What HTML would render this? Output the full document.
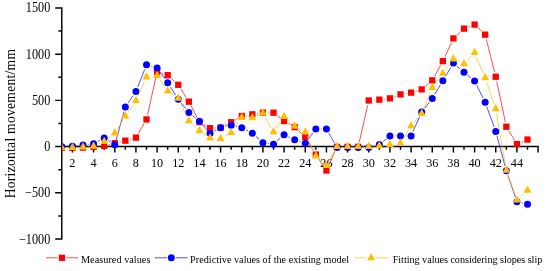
<!DOCTYPE html>
<html><head><meta charset="utf-8"><title>Horizontal movement chart</title>
<style>html,body{margin:0;padding:0;background:#fff;overflow:hidden}</style></head>
<body>
<svg width="550" height="271" viewBox="0 0 550 271" style="display:block">
<rect width="550" height="271" fill="#fff"/>
<path d="M61.78 7.23V239.77M61.055 146.45H538.81M55.18 239.05H61.78M58.38 215.94H61.78M55.18 192.83H61.78M58.38 169.72H61.78M55.18 146.45H61.78M58.38 123.50H61.78M55.18 100.39H61.78M58.38 77.28H61.78M55.18 54.17H61.78M58.38 31.06H61.78M55.18 7.95H61.78M72.43 146.45V152.55M83.02 146.45V149.65M93.60 146.45V152.55M104.18 146.45V149.65M114.77 146.45V152.55M125.35 146.45V149.65M135.93 146.45V152.55M146.51 146.45V149.65M157.10 146.45V152.55M167.68 146.45V149.65M178.26 146.45V152.55M188.85 146.45V149.65M199.43 146.45V152.55M210.01 146.45V149.65M220.59 146.45V152.55M231.18 146.45V149.65M241.76 146.45V152.55M252.34 146.45V149.65M262.93 146.45V152.55M273.51 146.45V149.65M284.09 146.45V152.55M294.68 146.45V149.65M305.26 146.45V152.55M315.84 146.45V149.65M326.43 146.45V152.55M337.01 146.45V149.65M347.59 146.45V152.55M358.17 146.45V149.65M368.76 146.45V152.55M379.34 146.45V149.65M389.92 146.45V152.55M400.51 146.45V149.65M411.09 146.45V152.55M421.67 146.45V149.65M432.26 146.45V152.55M442.84 146.45V149.65M453.42 146.45V152.55M464.00 146.45V149.65M474.59 146.45V152.55M485.17 146.45V149.65M495.75 146.45V152.55M506.34 146.45V149.65M516.92 146.45V152.55M527.50 146.45V149.65M538.09 146.45V152.55" stroke="#000" stroke-width="1.45" fill="none"/>
<g font-family="'Liberation Serif',serif" font-size="13.6" fill="#000">
<text transform="translate(50.3 243.55) scale(0.9 1)" text-anchor="end">−1000</text>
<text transform="translate(50.3 197.33) scale(0.9 1)" text-anchor="end">−500</text>
<text transform="translate(50.3 151.11) scale(0.9 1)" text-anchor="end">0</text>
<text transform="translate(50.3 104.89) scale(0.9 1)" text-anchor="end">500</text>
<text transform="translate(50.3 58.67) scale(0.9 1)" text-anchor="end">1000</text>
<text transform="translate(50.3 12.45) scale(0.9 1)" text-anchor="end">1500</text>
<text transform="translate(72.43 167.2) scale(0.94 1)" font-size="13" text-anchor="middle">2</text>
<text transform="translate(93.60 167.2) scale(0.94 1)" font-size="13" text-anchor="middle">4</text>
<text transform="translate(114.77 167.2) scale(0.94 1)" font-size="13" text-anchor="middle">6</text>
<text transform="translate(135.93 167.2) scale(0.94 1)" font-size="13" text-anchor="middle">8</text>
<text transform="translate(157.10 167.2) scale(0.94 1)" font-size="13" text-anchor="middle">10</text>
<text transform="translate(178.26 167.2) scale(0.94 1)" font-size="13" text-anchor="middle">12</text>
<text transform="translate(199.43 167.2) scale(0.94 1)" font-size="13" text-anchor="middle">14</text>
<text transform="translate(220.59 167.2) scale(0.94 1)" font-size="13" text-anchor="middle">16</text>
<text transform="translate(241.76 167.2) scale(0.94 1)" font-size="13" text-anchor="middle">18</text>
<text transform="translate(262.93 167.2) scale(0.94 1)" font-size="13" text-anchor="middle">20</text>
<text transform="translate(284.09 167.2) scale(0.94 1)" font-size="13" text-anchor="middle">22</text>
<text transform="translate(305.26 167.2) scale(0.94 1)" font-size="13" text-anchor="middle">24</text>
<text transform="translate(326.43 167.2) scale(0.94 1)" font-size="13" text-anchor="middle">26</text>
<text transform="translate(347.59 167.2) scale(0.94 1)" font-size="13" text-anchor="middle">28</text>
<text transform="translate(368.76 167.2) scale(0.94 1)" font-size="13" text-anchor="middle">30</text>
<text transform="translate(389.92 167.2) scale(0.94 1)" font-size="13" text-anchor="middle">32</text>
<text transform="translate(411.09 167.2) scale(0.94 1)" font-size="13" text-anchor="middle">34</text>
<text transform="translate(432.26 167.2) scale(0.94 1)" font-size="13" text-anchor="middle">36</text>
<text transform="translate(453.42 167.2) scale(0.94 1)" font-size="13" text-anchor="middle">38</text>
<text transform="translate(474.59 167.2) scale(0.94 1)" font-size="13" text-anchor="middle">40</text>
<text transform="translate(495.75 167.2) scale(0.94 1)" font-size="13" text-anchor="middle">42</text>
<text transform="translate(516.92 167.2) scale(0.94 1)" font-size="13" text-anchor="middle">44</text>
</g>
<text transform="translate(15.0 198.3) rotate(-90)" font-family="'Liberation Serif',serif" font-size="13.6" textLength="149.3" lengthAdjust="spacing" fill="#000">Horizontal movement/mm</text>
<clipPath id="pc"><rect x="62.4" y="0" width="488" height="271"/></clipPath><g clip-path="url(#pc)">
<path d="M66.75 147.77L67.53 147.77M77.33 147.68L78.12 147.67M87.90 147.24L88.71 147.19M98.48 146.38L99.30 146.30M108.93 144.63L110.01 144.35M119.53 142.03L120.58 141.78M130.06 139.30L131.22 138.97M138.40 133.38L144.05 123.66M147.58 114.64L156.03 76.83M161.79 73.44L162.98 73.80M171.31 78.48L174.63 81.50M180.86 88.95L186.25 97.54M191.10 106.04L197.17 117.75M203.68 124.54L205.77 125.75M214.91 127.94L215.70 127.89M224.95 125.40L226.82 124.43M235.41 119.72L237.53 118.48M246.60 115.24L247.50 115.10M257.18 113.58L258.09 113.44M267.83 112.68L268.61 112.68M277.35 115.73L280.26 118.03M288.34 123.53L290.43 124.73M298.29 130.49L301.65 133.56M307.77 141.08L313.33 150.39M318.56 158.68L323.71 166.41M328.43 166.01L335.01 151.32M341.91 146.84L342.69 146.84M352.49 146.84L353.27 146.84M359.26 142.07L367.67 105.27M373.64 100.11L374.46 100.04M384.20 99.06L385.06 98.96M394.51 96.64L395.92 96.12M405.34 93.59L406.25 93.44M415.78 91.21L416.99 90.84M425.40 86.22L428.53 83.54M434.62 76.07L440.47 65.44M444.91 56.71L451.35 42.88M457.02 35.11L460.41 31.98M468.58 26.89L470.01 26.34M478.14 27.96L481.62 31.27M486.36 39.40L494.56 72.01M496.77 81.55L505.32 121.92M508.89 130.90L514.37 139.89M521.42 142.15L523.00 141.48" stroke="#ff0000" stroke-width="0.7" fill="none"/>
<rect x="58.70" y="144.62" width="6.3" height="6.3" fill="#ff0000"/><rect x="69.28" y="144.62" width="6.3" height="6.3" fill="#ff0000"/><rect x="79.87" y="144.43" width="6.3" height="6.3" fill="#ff0000"/><rect x="90.45" y="143.69" width="6.3" height="6.3" fill="#ff0000"/><rect x="101.03" y="142.68" width="6.3" height="6.3" fill="#ff0000"/><rect x="111.61" y="140.00" width="6.3" height="6.3" fill="#ff0000"/><rect x="122.20" y="137.51" width="6.3" height="6.3" fill="#ff0000"/><rect x="132.78" y="134.46" width="6.3" height="6.3" fill="#ff0000"/><rect x="143.36" y="116.27" width="6.3" height="6.3" fill="#ff0000"/><rect x="153.95" y="68.90" width="6.3" height="6.3" fill="#ff0000"/><rect x="164.53" y="72.04" width="6.3" height="6.3" fill="#ff0000"/><rect x="175.11" y="81.64" width="6.3" height="6.3" fill="#ff0000"/><rect x="185.70" y="98.54" width="6.3" height="6.3" fill="#ff0000"/><rect x="196.28" y="118.95" width="6.3" height="6.3" fill="#ff0000"/><rect x="206.86" y="125.04" width="6.3" height="6.3" fill="#ff0000"/><rect x="217.44" y="124.49" width="6.3" height="6.3" fill="#ff0000"/><rect x="228.03" y="119.04" width="6.3" height="6.3" fill="#ff0000"/><rect x="238.61" y="112.85" width="6.3" height="6.3" fill="#ff0000"/><rect x="249.19" y="111.19" width="6.3" height="6.3" fill="#ff0000"/><rect x="259.78" y="109.53" width="6.3" height="6.3" fill="#ff0000"/><rect x="270.36" y="109.53" width="6.3" height="6.3" fill="#ff0000"/><rect x="280.94" y="117.93" width="6.3" height="6.3" fill="#ff0000"/><rect x="291.53" y="124.03" width="6.3" height="6.3" fill="#ff0000"/><rect x="302.11" y="133.72" width="6.3" height="6.3" fill="#ff0000"/><rect x="312.69" y="151.45" width="6.3" height="6.3" fill="#ff0000"/><rect x="323.28" y="167.33" width="6.3" height="6.3" fill="#ff0000"/><rect x="333.86" y="143.69" width="6.3" height="6.3" fill="#ff0000"/><rect x="344.44" y="143.69" width="6.3" height="6.3" fill="#ff0000"/><rect x="355.02" y="143.69" width="6.3" height="6.3" fill="#ff0000"/><rect x="365.61" y="97.34" width="6.3" height="6.3" fill="#ff0000"/><rect x="376.19" y="96.51" width="6.3" height="6.3" fill="#ff0000"/><rect x="386.77" y="95.22" width="6.3" height="6.3" fill="#ff0000"/><rect x="397.36" y="91.25" width="6.3" height="6.3" fill="#ff0000"/><rect x="407.94" y="89.49" width="6.3" height="6.3" fill="#ff0000"/><rect x="418.52" y="86.26" width="6.3" height="6.3" fill="#ff0000"/><rect x="429.11" y="77.21" width="6.3" height="6.3" fill="#ff0000"/><rect x="439.69" y="58.00" width="6.3" height="6.3" fill="#ff0000"/><rect x="450.27" y="35.29" width="6.3" height="6.3" fill="#ff0000"/><rect x="460.85" y="25.50" width="6.3" height="6.3" fill="#ff0000"/><rect x="471.44" y="21.44" width="6.3" height="6.3" fill="#ff0000"/><rect x="482.02" y="31.50" width="6.3" height="6.3" fill="#ff0000"/><rect x="492.60" y="73.61" width="6.3" height="6.3" fill="#ff0000"/><rect x="503.19" y="123.56" width="6.3" height="6.3" fill="#ff0000"/><rect x="513.77" y="140.92" width="6.3" height="6.3" fill="#ff0000"/><rect x="524.35" y="136.40" width="6.3" height="6.3" fill="#ff0000"/>
<path d="M66.75 146.49L67.54 146.46M77.29 145.65L78.16 145.54M87.89 144.40L88.73 144.31M97.88 141.41L99.90 140.28M108.28 140.57L110.66 142.13M116.08 140.09L124.03 111.67M128.12 102.91L133.16 95.57M137.74 86.98L144.71 69.40M151.22 66.20L152.39 66.54M159.94 71.89L164.84 78.77M170.33 86.88L175.61 95.08M181.31 103.03L185.79 108.66M192.60 115.64L195.67 118.21M202.70 125.01L206.74 129.53M214.35 130.91L216.25 129.91M225.36 126.51L226.41 126.27M235.95 126.27L236.99 126.51M246.10 129.91L248.00 130.91M255.99 136.45L259.28 139.41M267.78 143.37L268.66 143.49M277.15 140.89L280.45 137.93M288.53 136.74L290.24 137.55M299.33 141.18L300.61 141.61M308.18 139.22L312.92 132.86M320.74 128.93L321.53 128.93M328.86 133.18L334.57 143.15M341.91 147.40L342.69 147.40M352.49 147.40L353.27 147.40M363.07 147.40L363.86 147.40M373.49 146.12L374.61 145.82M383.14 141.45L386.12 139.04M394.82 135.95L395.61 135.95M405.41 135.95L406.19 135.95M413.08 131.47L419.68 116.60M424.67 108.25L429.25 102.33M434.77 94.25L440.33 84.94M445.36 76.53L450.90 67.29M457.13 66.30L460.30 69.03M467.79 75.34L470.80 77.81M476.76 85.30L482.99 97.86M486.84 106.85L494.08 126.82M497.02 136.16L505.07 166.12M507.93 175.49L515.33 197.06M521.69 202.82L522.73 203.06" stroke="#0000ff" stroke-width="0.7" fill="none"/>
<circle cx="61.85" cy="146.66" r="3.5" fill="#0000ff"/><circle cx="72.43" cy="146.29" r="3.5" fill="#0000ff"/><circle cx="83.02" cy="144.91" r="3.5" fill="#0000ff"/><circle cx="93.60" cy="143.80" r="3.5" fill="#0000ff"/><circle cx="104.18" cy="137.89" r="3.5" fill="#0000ff"/><circle cx="114.77" cy="144.81" r="3.5" fill="#0000ff"/><circle cx="125.35" cy="106.95" r="3.5" fill="#0000ff"/><circle cx="135.93" cy="91.53" r="3.5" fill="#0000ff"/><circle cx="146.51" cy="64.85" r="3.5" fill="#0000ff"/><circle cx="157.10" cy="67.89" r="3.5" fill="#0000ff"/><circle cx="167.68" cy="82.76" r="3.5" fill="#0000ff"/><circle cx="178.26" cy="99.20" r="3.5" fill="#0000ff"/><circle cx="188.85" cy="112.49" r="3.5" fill="#0000ff"/><circle cx="199.43" cy="121.36" r="3.5" fill="#0000ff"/><circle cx="210.01" cy="133.18" r="3.5" fill="#0000ff"/><circle cx="220.59" cy="127.64" r="3.5" fill="#0000ff"/><circle cx="231.18" cy="125.14" r="3.5" fill="#0000ff"/><circle cx="241.76" cy="127.64" r="3.5" fill="#0000ff"/><circle cx="252.34" cy="133.18" r="3.5" fill="#0000ff"/><circle cx="262.93" cy="142.69" r="3.5" fill="#0000ff"/><circle cx="273.51" cy="144.17" r="3.5" fill="#0000ff"/><circle cx="284.09" cy="134.66" r="3.5" fill="#0000ff"/><circle cx="294.68" cy="139.64" r="3.5" fill="#0000ff"/><circle cx="305.26" cy="143.15" r="3.5" fill="#0000ff"/><circle cx="315.84" cy="128.93" r="3.5" fill="#0000ff"/><circle cx="326.43" cy="128.93" r="3.5" fill="#0000ff"/><circle cx="337.01" cy="147.40" r="3.5" fill="#0000ff"/><circle cx="347.59" cy="147.40" r="3.5" fill="#0000ff"/><circle cx="358.17" cy="147.40" r="3.5" fill="#0000ff"/><circle cx="368.76" cy="147.40" r="3.5" fill="#0000ff"/><circle cx="379.34" cy="144.54" r="3.5" fill="#0000ff"/><circle cx="389.92" cy="135.95" r="3.5" fill="#0000ff"/><circle cx="400.51" cy="135.95" r="3.5" fill="#0000ff"/><circle cx="411.09" cy="135.95" r="3.5" fill="#0000ff"/><circle cx="421.67" cy="112.12" r="3.5" fill="#0000ff"/><circle cx="432.26" cy="98.46" r="3.5" fill="#0000ff"/><circle cx="442.84" cy="80.73" r="3.5" fill="#0000ff"/><circle cx="453.42" cy="63.09" r="3.5" fill="#0000ff"/><circle cx="464.00" cy="72.23" r="3.5" fill="#0000ff"/><circle cx="474.59" cy="80.91" r="3.5" fill="#0000ff"/><circle cx="485.17" cy="102.24" r="3.5" fill="#0000ff"/><circle cx="495.75" cy="131.42" r="3.5" fill="#0000ff"/><circle cx="506.34" cy="170.85" r="3.5" fill="#0000ff"/><circle cx="516.92" cy="201.69" r="3.5" fill="#0000ff"/><circle cx="527.50" cy="204.19" r="3.5" fill="#0000ff"/>
<path d="M66.75 147.68L67.53 147.67M77.33 147.33L78.12 147.29M87.90 146.69L88.71 146.63M98.10 144.36L99.68 143.69M108.00 138.70L110.94 136.34M117.35 129.11L122.77 120.35M128.12 112.15L133.16 104.81M137.93 96.29L144.51 81.60M151.37 76.45L152.24 76.33M159.85 79.71L164.93 87.20M171.75 93.99L174.20 95.63M180.35 102.80L186.76 116.37M192.38 124.20L195.89 127.57M203.46 133.74L205.98 135.48M214.91 138.47L215.70 138.51M224.83 136.25L226.95 135.00M234.02 128.54L238.92 121.66M246.66 117.79L247.45 117.81M256.82 115.95L258.45 115.23M265.35 117.49L271.08 127.54M276.33 127.78L281.27 120.75M287.71 120.05L291.06 123.13M298.99 128.77L300.95 129.83M307.24 136.64L313.86 151.60M319.49 159.35L322.78 162.31M328.82 161.31L334.62 150.94M341.91 146.66L342.69 146.66M352.49 146.66L353.27 146.66M363.07 146.66L363.86 146.66M373.65 146.32L374.45 146.26M384.22 145.50L385.04 145.42M394.75 144.16L395.68 143.99M403.09 138.99L408.51 130.23M414.27 122.34L418.49 117.42M423.52 109.16L430.41 92.19M435.17 83.71L439.92 77.28M445.75 69.40L450.51 62.97M457.85 61.12L459.57 61.93M467.36 60.44L471.23 56.32M476.48 57.27L483.27 73.44M486.76 82.60L494.17 104.26M496.59 113.72L505.50 165.47M507.97 174.92L515.28 195.51M520.53 196.81L523.89 193.74" stroke="#ffc000" stroke-width="0.7" fill="none"/>
<path d="M61.85 142.87L65.85 150.12L57.85 150.12Z" fill="#ffc000"/><path d="M72.43 142.68L76.43 149.93L68.43 149.93Z" fill="#ffc000"/><path d="M83.02 142.13L87.02 149.38L79.02 149.38Z" fill="#ffc000"/><path d="M93.60 141.39L97.60 148.64L89.60 148.64Z" fill="#ffc000"/><path d="M104.18 136.87L108.18 144.12L100.18 144.12Z" fill="#ffc000"/><path d="M114.77 128.37L118.77 135.62L110.77 135.62Z" fill="#ffc000"/><path d="M125.35 111.29L129.35 118.54L121.35 118.54Z" fill="#ffc000"/><path d="M135.93 95.87L139.93 103.12L131.93 103.12Z" fill="#ffc000"/><path d="M146.51 72.23L150.51 79.48L142.51 79.48Z" fill="#ffc000"/><path d="M157.10 70.75L161.10 78.00L153.10 78.00Z" fill="#ffc000"/><path d="M167.68 86.36L171.68 93.61L163.68 93.61Z" fill="#ffc000"/><path d="M178.26 93.47L182.26 100.72L174.26 100.72Z" fill="#ffc000"/><path d="M188.85 115.90L192.85 123.15L184.85 123.15Z" fill="#ffc000"/><path d="M199.43 126.06L203.43 133.31L195.43 133.31Z" fill="#ffc000"/><path d="M210.01 133.36L214.01 140.61L206.01 140.61Z" fill="#ffc000"/><path d="M220.59 133.82L224.59 141.07L216.59 141.07Z" fill="#ffc000"/><path d="M231.18 127.63L235.18 134.88L227.18 134.88Z" fill="#ffc000"/><path d="M241.76 112.77L245.76 120.02L237.76 120.02Z" fill="#ffc000"/><path d="M252.34 113.04L256.34 120.29L248.34 120.29Z" fill="#ffc000"/><path d="M262.93 108.33L266.93 115.58L258.93 115.58Z" fill="#ffc000"/><path d="M273.51 126.89L277.51 134.14L269.51 134.14Z" fill="#ffc000"/><path d="M284.09 111.84L288.09 119.09L280.09 119.09Z" fill="#ffc000"/><path d="M294.68 121.54L298.68 128.79L290.68 128.79Z" fill="#ffc000"/><path d="M305.26 127.26L309.26 134.51L301.26 134.51Z" fill="#ffc000"/><path d="M315.84 151.18L319.84 158.43L311.84 158.43Z" fill="#ffc000"/><path d="M326.43 160.69L330.43 167.94L322.43 167.94Z" fill="#ffc000"/><path d="M337.01 141.76L341.01 149.01L333.01 149.01Z" fill="#ffc000"/><path d="M347.59 141.76L351.59 149.01L343.59 149.01Z" fill="#ffc000"/><path d="M358.17 141.76L362.17 149.01L354.17 149.01Z" fill="#ffc000"/><path d="M368.76 141.76L372.76 149.01L364.76 149.01Z" fill="#ffc000"/><path d="M379.34 141.02L383.34 148.27L375.34 148.27Z" fill="#ffc000"/><path d="M389.92 140.10L393.92 147.35L385.92 147.35Z" fill="#ffc000"/><path d="M400.51 138.25L404.51 145.50L396.51 145.50Z" fill="#ffc000"/><path d="M411.09 121.17L415.09 128.42L407.09 128.42Z" fill="#ffc000"/><path d="M421.67 108.79L425.67 116.04L417.67 116.04Z" fill="#ffc000"/><path d="M432.26 82.75L436.26 90.00L428.26 90.00Z" fill="#ffc000"/><path d="M442.84 68.44L446.84 75.69L438.84 75.69Z" fill="#ffc000"/><path d="M453.42 54.13L457.42 61.38L449.42 61.38Z" fill="#ffc000"/><path d="M464.00 59.12L468.00 66.37L460.00 66.37Z" fill="#ffc000"/><path d="M474.59 47.85L478.59 55.10L470.59 55.10Z" fill="#ffc000"/><path d="M485.17 73.06L489.17 80.31L481.17 80.31Z" fill="#ffc000"/><path d="M495.75 103.99L499.75 111.24L491.75 111.24Z" fill="#ffc000"/><path d="M506.34 165.40L510.34 172.65L502.34 172.65Z" fill="#ffc000"/><path d="M516.92 195.22L520.92 202.47L512.92 202.47Z" fill="#ffc000"/><path d="M527.50 185.53L531.50 192.78L523.50 192.78Z" fill="#ffc000"/>
</g>
<path d="M46 257.8H57.3M66.8 257.8H78.2" stroke="#ff0000" stroke-width="0.7"/>
<rect x="58.85" y="254.65" width="6.3" height="6.3" fill="#ff0000"/>
<path d="M154.8 257.8H166.9M175.7 257.8H187.5" stroke="#0000ff" stroke-width="0.7"/>
<circle cx="171.3" cy="257.8" r="3.5" fill="#0000ff"/>
<path d="M354.6 257.8H366.6M375.8 257.8H388" stroke="#ffc000" stroke-width="0.7"/>
<path d="M371.20 252.90L375.20 260.15L367.20 260.15Z" fill="#ffc000"/>
<g font-family="'Liberation Serif',serif" font-size="10.2" fill="#000">
<text x="81" y="262.60" textLength="69.4" lengthAdjust="spacing">Measured values</text>
<text x="190.1" y="262.60" textLength="158.9" lengthAdjust="spacing">Predictive values of the existing model</text>
<text x="392.7" y="262.60" textLength="149.6" lengthAdjust="spacing">Fitting values considering slopes slip</text>
</g>
</svg>
</body></html>
